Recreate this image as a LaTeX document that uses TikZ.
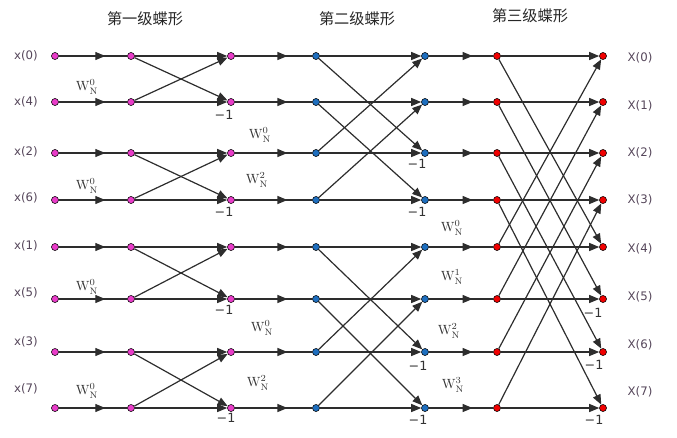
\documentclass[tikz,border=0pt]{standalone}
\usepackage{fontspec}
\setsansfont{DejaVu Sans}
\newfontfamily\cjk{Noto Sans CJK SC}
\usetikzlibrary{arrows.meta,decorations.markings}

\definecolor{dotpink}{RGB}{232,60,200}
\definecolor{dotblue}{RGB}{30,110,190}
\definecolor{dotred}{RGB}{240,0,0}
\definecolor{wirecol}{RGB}{45,45,45}
\definecolor{labcol}{RGB}{85,70,90}

\tikzset{
  dot/.style={circle, draw=black, line width=0.4pt, inner sep=0pt, minimum size=5.3pt, fill=#1},
  wire/.style={draw=wirecol, color=wirecol, line width=0.9pt},
  tip/.style={wire, -{Triangle[length=7.5pt,width=6pt]}},
  midtip/.style={wire, postaction={decorate},
    decoration={markings, mark=at position 0.68 with {\arrow{Triangle[length=7.5pt,width=6pt]}}}},
  lab/.style={font=\sffamily\fontsize{8.8}{10}\selectfont, text=labcol, inner sep=1pt},
  twid/.style={font=\fontsize{10}{12}\selectfont, text=black!80, inner sep=0pt},
  minus/.style={font=\sffamily\fontsize{9.5}{11}\selectfont, text=black!80, inner sep=0pt},
  stagetitle/.style={font=\cjk\fontsize{11.4}{13}\selectfont, text=black!85}
}

\begin{document}
\begin{tikzpicture}[x=0.75pt, y=-0.75pt]
\useasboundingbox (0,0) rectangle (677,437);

% points of the flow graph: columns and rows
\foreach \c/\x/\col in {0/55/dotpink, 1/131/dotpink, 2/231/dotpink, 3/316/dotblue,
                        4/425/dotblue, 5/497/dotred, 6/603/dotred}
  \foreach \r/\y in {0/56, 1/102, 2/153, 3/200, 4/247, 5/299, 6/352, 7/408}
    \node[dot=\col] (n\c\r) at (\x,\y) {};

% straight branches
\foreach \r in {0,...,7} {
  \draw[midtip] (n0\r) -- (n1\r);
  \draw[tip] (n1\r) -- (n2\r);
  \draw[midtip] (n2\r) -- (n3\r);
  \draw[tip] (n3\r) -- (n4\r);
  \draw[midtip] (n4\r) -- (n5\r);
  \draw[tip] (n5\r) -- (n6\r);
}

% crossing branches of the three stages
\foreach \a/\b in {0/1, 2/3, 4/5, 6/7} {
  \draw[tip] (n1\a) -- (n2\b);
  \draw[tip] (n1\b) -- (n2\a);
}
\foreach \a/\b in {0/2, 1/3, 4/6, 5/7} {
  \draw[tip] (n3\a) -- (n4\b);
  \draw[tip] (n3\b) -- (n4\a);
}
\foreach \a/\b in {0/4, 1/5, 2/6, 3/7} {
  \draw[tip] (n5\a) -- (n6\b);
  \draw[tip] (n5\b) -- (n6\a);
}

% stage titles
\node[stagetitle] (t1) at (145,19) {第一级蝶形};
\node[stagetitle] (t2) at (357,19) {第二级蝶形};
\node[stagetitle] (t3) at (530,16) {第三级蝶形};

% inputs and outputs
\foreach \t/\y [count=\i] in {x(0)/56, x(4)/102, x(2)/152, x(6)/198,
                              x(1)/246, x(5)/293, x(3)/342, x(7)/389}
  \node[lab] (in\i) at (26,\y) {\t};
\foreach \t/\y [count=\i] in {X(0)/58, X(1)/106, X(2)/153, X(3)/200,
                              X(4)/249, X(5)/297, X(6)/345, X(7)/392}
  \node[lab] (out\i) at (640,\y) {\t};

% twiddle factors
\foreach \k/\x/\y [count=\i] in {0/87/87, 0/87/186, 0/87/287, 0/87/391,
                                 0/260/135, 2/257/180, 0/262/328, 2/258/383,
                                 0/452/228, 1/452/277, 2/449/331, 3/453/385}
  \node[twid] (w\i) at (\x,\y) {$\mathrm{W}_{\mathrm{N}}^{\k}$};

% factors -1
\foreach \x/\y [count=\i] in {224/115, 224/212, 224/310, 226/418,
                              417/164, 417/212, 418/366, 418/420,
                              593/313, 594/365, 594/420}
  \node[minus] (m\i) at (\x,\y) {−1};

\end{tikzpicture}
\end{document}
